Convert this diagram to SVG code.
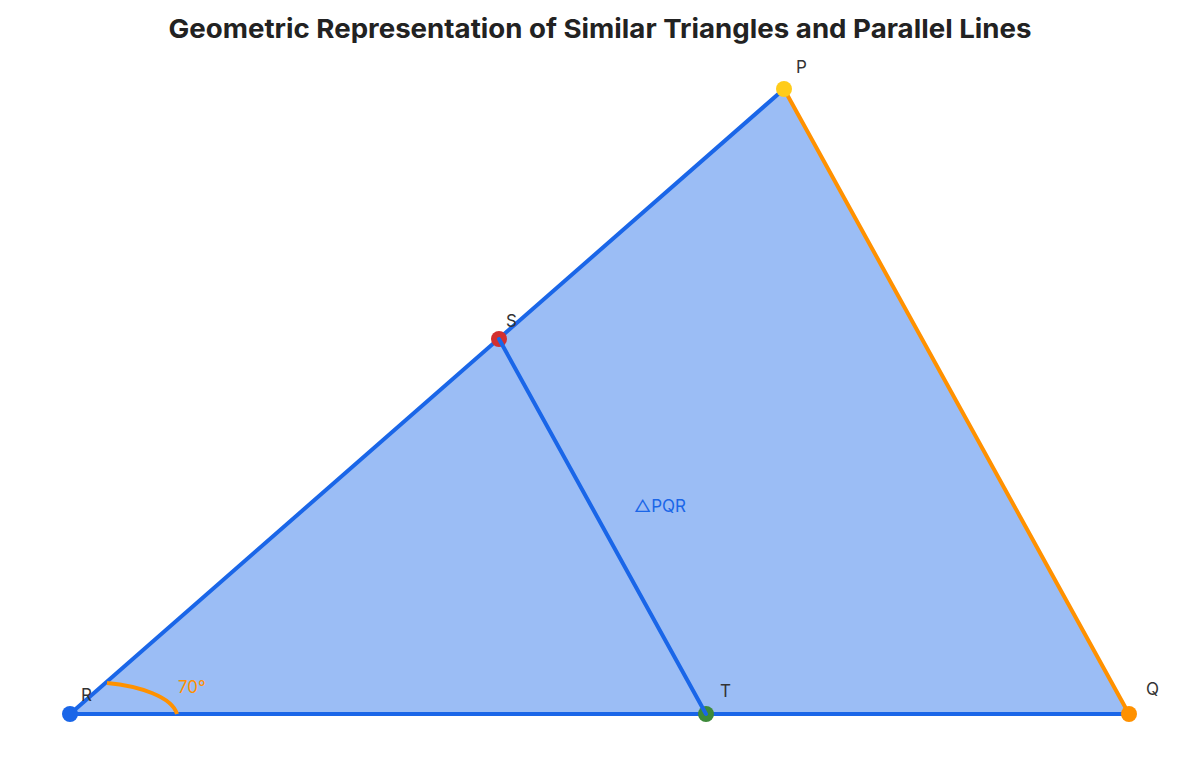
<svg xmlns="http://www.w3.org/2000/svg" width="1200" height="763" viewBox="0 0 1200 763">
<style>
.lbl{font-family:Inter,"Noto Sans",sans-serif;font-size:17px;fill:#333}
.edge{stroke:#1a66e8;stroke-width:4;fill:none;stroke-linecap:round}
</style>
<rect width="1200" height="763" fill="#fff"/>
<text x="600" y="38" text-anchor="middle" font-family="Inter,'Noto Sans',sans-serif" font-weight="700" font-size="26" fill="#222" textLength="863" lengthAdjust="spacingAndGlyphs">Geometric Representation of Similar Triangles and Parallel Lines</text>
<g id="triangle">
<polygon points="70,714 784,89 1129,714" fill="#9bbdf5"/>
</g>
<g id="connectors">
<line class="edge" x1="70" y1="714" x2="784" y2="89"/>
<line class="edge" x1="70" y1="714" x2="1129" y2="714"/>
<line x1="784" y1="89" x2="1129" y2="714" stroke="#ff9100" stroke-width="4" stroke-linecap="round"/>
<path d="M107,683 C140,686 172,697 177,714" fill="none" stroke="#ff9100" stroke-width="4"/>
</g>
<g id="node-P"><circle cx="784" cy="89" r="8" fill="#ffcc1a"/><text class="lbl" x="796" y="73">P</text></g>
<g id="node-S"><circle cx="499" cy="339" r="8" fill="#d32f2f"/><text class="lbl" x="506" y="327">S</text></g>
<g id="node-T"><circle cx="706" cy="714" r="8" fill="#3d8a3a"/><text class="lbl" x="720" y="697">T</text></g>
<g id="segment-ST"><line class="edge" x1="499" y1="339" x2="706" y2="714"/></g>
<g id="node-R"><circle cx="70" cy="714" r="8" fill="#1a66e8"/><text class="lbl" x="81" y="701">R</text></g>
<g id="node-Q"><circle cx="1129" cy="714" r="8" fill="#ff9100"/><text class="lbl" x="1146" y="695">Q</text></g>
<g id="labels">
<text x="178" y="693" font-family="Inter,'Noto Sans',sans-serif" font-size="17" fill="#ff9100">70°</text>
<text x="634" y="512" font-family="Inter,'Noto Sans',sans-serif" font-size="17" fill="#1a66e8">△PQR</text>
</g>
</svg>
